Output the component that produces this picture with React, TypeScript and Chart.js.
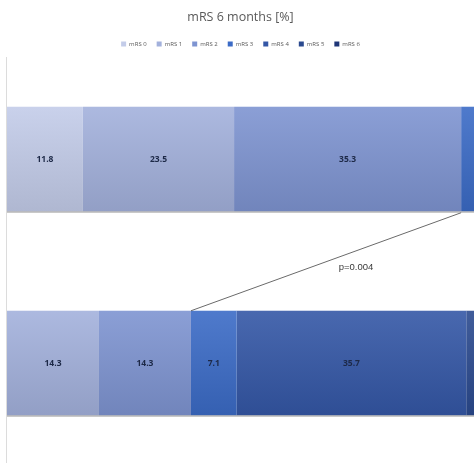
import React, { useEffect, useRef } from 'react';
import { Chart, registerables } from 'chart.js';

Chart.register(...registerables);

// Two patient groups (top bar, bottom bar)
const groups = ['Group 1', 'Group 2'];
const levels = ['mRS 0', 'mRS 1', 'mRS 2', 'mRS 3', 'mRS 4', 'mRS 5', 'mRS 6'];

// Percent per mRS level, [top group, bottom group]
const mrs0 = [11.8, 0];
const mrs1 = [23.5, 14.3];
const mrs2 = [35.3, 14.3];
const mrs3 = [5.9, 7.1];
const mrs4 = [11.8, 35.7];
const mrs5 = [5.9, 7.1];
const mrs6 = [5.9, 21.4];

const series = [mrs0, mrs1, mrs2, mrs3, mrs4, mrs5, mrs6];
const colors = ['#c3cce9', '#a3b1dc', '#7e94d1', '#3b6bc6', '#3457a6', '#2b4a8f', '#1f3677'];

const titleText = 'mRS 6 months [%]';
const pText = 'p=0.004';
// visible portion of the percent axis (reference image is cropped on the right)
const xMin = 0;
const xMax = 72.6;

const overlayPlugin = {
  id: 'overlay',
  afterDatasetsDraw(chart: any) {
    const { ctx, chartArea } = chart;
    ctx.save();
    // left axis line
    ctx.strokeStyle = '#dcdcdc';
    ctx.lineWidth = 1;
    ctx.beginPath();
    ctx.moveTo(chartArea.left - 0.5, chartArea.top);
    ctx.lineTo(chartArea.left - 0.5, chartArea.bottom - 2);
    ctx.stroke();

    ctx.beginPath();
    ctx.rect(chartArea.left, 0, chartArea.right - chartArea.left, chart.height);
    ctx.clip();

    // shading gradient per bar (Excel style)
    const n = chart.data.labels.length;
    for (let i = 0; i < n; i++) {
      let left = Infinity, right = -Infinity, top = 0, bottom = 0;
      chart.data.datasets.forEach((ds: any, di: number) => {
        const el: any = chart.getDatasetMeta(di).data[i];
        if (!el) return;
        left = Math.min(left, el.base, el.x);
        right = Math.max(right, el.base, el.x);
        top = el.y - el.height / 2;
        bottom = el.y + el.height / 2;
      });
      const g = ctx.createLinearGradient(0, top, 0, bottom);
      g.addColorStop(0, 'rgba(255,255,255,0.10)');
      g.addColorStop(1, 'rgba(0,0,0,0.10)');
      ctx.fillStyle = g;
      ctx.fillRect(left, top, right - left, bottom - top);
      ctx.fillStyle = 'rgba(90,90,90,0.45)';
      ctx.fillRect(left, bottom, right - left, 1.5);
    }

    // value labels
    ctx.font = 'bold 8.5px "Open Sans"';
    ctx.fillStyle = '#1d2947';
    ctx.textAlign = 'center';
    ctx.textBaseline = 'middle';
    chart.data.datasets.forEach((ds: any, di: number) => {
      chart.getDatasetMeta(di).data.forEach((el: any, i: number) => {
        const v = ds.data[i];
        if (!v) return;
        ctx.fillText(v.toFixed(1), (el.x + el.base) / 2, el.y + 0.5);
      });
    });
    ctx.restore();

    // p-value connector between cumulative mRS 0-2 ends
    ctx.save();
    const m = chart.getDatasetMeta(2).data;
    const a: any = m[0];
    const b: any = m[1];
    const x1 = a.x, y1 = a.y + a.height / 2 + 1.5;
    const x2 = b.x, y2 = b.y - b.height / 2;
    ctx.strokeStyle = '#6a6a6a';
    ctx.lineWidth = 1;
    ctx.beginPath();
    ctx.moveTo(x1, y1);
    ctx.lineTo(x2, y2);
    ctx.stroke();
    ctx.font = '9.5px "Liberation Sans"';
    ctx.fillStyle = '#3a3a3a';
    ctx.textAlign = 'center';
    ctx.textBaseline = 'middle';
    ctx.fillText(pText, (x1 + x2) / 2 + 30, (y1 + y2) / 2 + 6);
    ctx.restore();
  },
};

export default function App() {
  const ref = useRef<HTMLCanvasElement>(null);
  useEffect(() => {
    if (!ref.current) return;
    const chart = new Chart(ref.current, {
      type: 'bar',
      data: {
        labels: groups,
        datasets: series.map((d, i) => ({
          label: levels[i],
          data: d,
          backgroundColor: colors[i],
          borderWidth: 0,
          categoryPercentage: 1,
          barPercentage: 0.512,
        })),
      },
      options: {
        indexAxis: 'y',
        animation: false,
        responsive: false,
        layout: { padding: { left: 7, right: 0, top: 8, bottom: 9 } },
        scales: {
          x: { stacked: true, min: xMin, max: xMax, display: false },
          y: { stacked: true, display: false },
        },
        plugins: {
          title: {
            display: true,
            text: titleText,
            color: '#595959',
            font: { family: '"Open Sans"', size: 12.5, weight: 'normal' },
            padding: { top: 2, bottom: 6 },
          },
          legend: {
            display: true,
            position: 'top',
            labels: {
              boxWidth: 5,
              boxHeight: 5,
              padding: 10,
              color: '#595959',
              font: { family: '"Open Sans"', size: 6 },
            },
          },
          tooltip: { enabled: false },
        },
      },
      plugins: [overlayPlugin],
    });
    return () => chart.destroy();
  }, []);
  return (
    <div style={{ position: 'fixed', left: 0, top: 0, width: 474, height: 474, background: '#fff' }}>
      <canvas ref={ref} width={474} height={474} />
    </div>
  );
}
